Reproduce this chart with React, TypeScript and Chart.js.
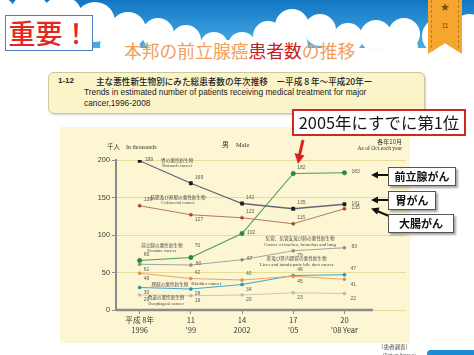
import React, { useEffect, useRef } from "react";
import { Chart, registerables } from "chart.js";

Chart.register(...registerables);

// ---- data ----
const years = [1996, 1999, 2002, 2005, 2008];
const heiseiLabels = ["平成 8年", "11", "14", "17", "20"];
const westernLabels = ["1996", "'99", "2002", "'05", "'08 Year"];
const yTicks = [0, 50, 100, 150, 200];

const stomach = [199, 169, 142, 135, 141];
const colorectal = [139, 127, 123, 115, 135];
const prostate = [66, 70, 102, 182, 183];
const lung = [61, 60, 67, 79, 83];
const liver = [49, 42, 40, 45, 41];
const bladder = [30, 28, 34, 46, 47];
const esophagus = [20, 19, 20, 23, 22];

// ---- presentation ----
type Place = "r" | "ar" | "br" | "aar";
const OFFSETS: Record<Place, [number, number]> = {
  r: [5, -1],
  ar: [4, -6],
  br: [4, 5],
  aar: [4, -12],
};

const SERIES = [
  { label: "胃", values: stomach, line: "#66667a", point: "#1c1c1c", style: "rect", r: 2.3, w: 1.3,
    place: ["r", "ar", "ar", "ar", "r"] as Place[], jp: "胃の悪性新生物", en: "Stomach cancer", at: [1998.2, 200], mode: "center" },
  { label: "大腸", values: colorectal, line: "#b27868", point: "#a8442e", style: "circle", r: 1.6, w: 1,
    place: ["ar", "br", "ar", "ar", "r"] as Place[], jp: "結腸及び直腸の悪性新生物", en: "Colorectal cancer", at: [1998.25, 150.5], mode: "center" },
  { label: "前立腺", values: prostate, line: "#4c9c5a", point: "#238a38", style: "circle", r: 2.2, w: 1.1,
    place: ["ar", "aar", "r", "ar", "r"] as Place[], jp: "前立腺の悪性新生物", en: "Prostate cancer", at: [1997.3, 86.5], mode: "center" },
  { label: "肺", values: lung, line: "#a2a2a2", point: "#8a8a8a", style: "circle", r: 1.5, w: 1,
    place: ["br", "r", "r", "br", "r"] as Place[], jp: "気管、気管支及び肺の悪性新生物", en: "Cancer of trachea, bronchus and lung", at: [2005.4, 95.5], mode: "center" },
  { label: "肝", values: liver, line: "#e8a46a", point: "#e08a48", style: "circle", r: 1.5, w: 1,
    place: ["br", "ar", "ar", "br", "br"] as Place[], jp: "肝及び肝内胆管の悪性新生物", en: "Liver and intrahepatic bile duct cancer", at: [2005.2, 68.5], mode: "center" },
  { label: "膀胱", values: bladder, line: "#3fa9c6", point: "#2a8fb0", style: "circle", r: 1.6, w: 1.2,
    place: ["br", "br", "br", "ar", "ar"] as Place[], jp: "膀胱の悪性新生物", en: "Bladder cancer", at: [1996.7, 34.7], mode: "inline" },
  { label: "食道", values: esophagus, line: "#c9c8b6", point: "#b8b7a4", style: "circle", r: 1.4, w: 1,
    place: ["br", "br", "br", "br", "br"] as Place[], jp: "食道の悪性新生物", en: "Esophageal cancer", at: [1997.55, 16.5], mode: "center" },
];

const JP = '"Noto Sans CJK JP", sans-serif';
const SANS = '"Liberation Sans", Arial, sans-serif';
const SERIF = '"Liberation Serif", "DejaVu Serif", serif';

const annotPlugin = {
  id: "annot",
  beforeDatasetsDraw(chart: any) {
    const { ctx, scales } = chart;
    const x = scales.x, y = scales.y;
    const y0 = y.getPixelForValue(0);
    ctx.save();
    ctx.strokeStyle = "#8c8c8c";
    ctx.lineWidth = 2.5;
    ctx.beginPath();
    ctx.moveTo(chart.chartArea.left, y0);
    ctx.lineTo(x.getPixelForValue(2009.67), y0);
    ctx.stroke();
    ctx.restore();
  },
  afterDatasetsDraw(chart: any) {
    const { ctx, scales } = chart;
    const x = scales.x, y = scales.y;
    ctx.save();
    ctx.textBaseline = "middle";
    SERIES.forEach((s) => {
      ctx.fillStyle = "#5a5a5a";
      ctx.font = `5px ${SANS}`;
      ctx.textAlign = "left";
      s.values.forEach((v, i) => {
        const [dx, dy] = OFFSETS[s.place[i]];
        const px = x.getPixelForValue(years[i]);
        const py = y.getPixelForValue(v);
        ctx.fillText(String(v), px + dx + (i === 4 ? 2 : 0), py + dy);
      });
      const ax = x.getPixelForValue(s.at[0]);
      const ay = y.getPixelForValue(s.at[1]);
      ctx.fillStyle = "#4a4a4a";
      if (s.mode === "inline") {
        ctx.textAlign = "left";
        ctx.font = `4.6px ${JP}`;
        ctx.fillText(s.jp, ax, ay);
        const w = ctx.measureText(s.jp).width;
        ctx.font = `5px ${SERIF}`;
        ctx.fillText(s.en, ax + w + 3, ay);
      } else {
        ctx.textAlign = "center";
        ctx.font = `4.6px ${JP}`;
        ctx.fillText(s.jp, ax, ay);
        ctx.font = `4.8px ${SERIF}`;
        ctx.fillText(s.en, ax, ay + 6);
      }
    });
    ctx.restore();
  },
};

export default function App() {
  const ref = useRef<HTMLCanvasElement>(null);

  useEffect(() => {
    document.body.style.margin = "0";
    const canvas = ref.current!;
    const chart = new Chart(canvas, {
      type: "line",
      data: {
        datasets: SERIES.map((s) => ({
          label: s.label,
          data: s.values.map((v, i) => ({ x: years[i], y: v })),
          borderColor: s.line,
          borderWidth: s.w,
          backgroundColor: s.point,
          pointBackgroundColor: s.point,
          pointBorderColor: s.point,
          pointStyle: s.style as any,
          pointRadius: s.r,
          pointBorderWidth: 0.5,
          tension: 0,
          fill: false,
        })),
      },
      options: {
        responsive: false,
        animation: false,
        events: [],
        layout: { padding: { top: 33, left: 0, right: 0, bottom: 0 } },
        plugins: { legend: { display: false }, tooltip: { enabled: false }, title: { display: false } },
        scales: {
          x: {
            type: "linear",
            min: 1994.615,
            max: 2011.577,
            afterBuildTicks: (s: any) => {
              s.ticks = years.map((v) => ({ value: v }));
            },
            afterFit: (s: any) => {
              s.height = 33;
            },
            grid: { drawOnChartArea: false, drawTicks: true, tickLength: 4, tickColor: "#8c8c8c", lineWidth: 1 },
            border: { display: false },
            ticks: {
              autoSkip: false,
              maxRotation: 0,
              padding: 1,
              color: "#3c3c3c",
              font: { size: 7.6, family: '"Noto Sans CJK JP", "Liberation Sans", sans-serif', lineHeight: 1.35 },
              callback: (_v: any, i: number) => [heiseiLabels[i], westernLabels[i]],
            },
          },
          y: {
            type: "linear",
            min: 0,
            max: 200,
            afterBuildTicks: (s: any) => {
              s.ticks = yTicks.map((v) => ({ value: v }));
            },
            afterFit: (s: any) => {
              s.width = 56;
            },
            grid: { color: "#e6dc9c", tickColor: "#8c8c8c", tickLength: 4, lineWidth: 1 },
            border: { color: "#8c8c8c", width: 2 },
            ticks: { padding: 2, color: "#3c3c3c", font: { size: 7.4, family: SANS } },
          },
        },
      },
      plugins: [annotPlugin],
    });
    return () => chart.destroy();
  }, []);

  const clouds: [number, number, number][] = [
    [-8, 20, 26], [30, 14, 20], [62, 16, 20], [95, 22, 20], [128, 30, 18], [158, 34, 16], [186, 40, 15],
    [214, 46, 14], [242, 46, 14], [268, 36, 15], [292, 26, 17], [320, 30, 16], [348, 38, 15], [376, 36, 16],
    [404, 34, 16], [440, 36, 18], [470, 32, 18],
    [20, 40, 22], [70, 40, 22], [120, 46, 20], [170, 50, 18], [230, 56, 16], [290, 46, 18], [340, 50, 18], [400, 48, 18], [455, 50, 20],
  ];

  const abs = (o: React.CSSProperties): React.CSSProperties => ({ position: "absolute", ...o });

  return (
    <div style={{ position: "relative", width: 474, height: 355, overflow: "hidden", background: "#fff", fontFamily: JP }}>
      {/* sky */}
      <div style={abs({ left: 0, top: 0, width: 474, height: 48, background: "linear-gradient(#1276c4, #49ade6)" })} />
      {clouds.map(([cx, cy, r], i) => (
        <div
          key={i}
          style={abs({
            left: cx - r, top: cy - r, width: r * 2, height: r * 2, borderRadius: "50%",
            background: "radial-gradient(circle at 50% 28%, #ffffff 66%, #eef2f6 100%)",
          })}
        />
      ))}
      <div style={abs({ left: 0, top: 52, width: 474, height: 30, background: "#fff" })} />

      {/* ribbon */}
      <div style={abs({ left: 428, top: 0, width: 34, height: 54, background: "#f5a62e", clipPath: "polygon(0 0,100% 0,100% 100%,50% 80%,0 100%)" })}>
        <div style={abs({ left: 3, top: 0, width: 26, height: 48, borderLeft: "1px dashed #c27a12", borderRight: "1px dashed #c27a12" })} />
        <div style={abs({ left: 0, top: 2, width: 34, textAlign: "center", fontSize: 9, color: "#7a4c0c", lineHeight: "10px" })}>★</div>
        <div style={abs({ left: 0, top: 22, width: 34, textAlign: "center", fontSize: 6.5, color: "#6a4410", fontFamily: SANS, lineHeight: "8px" })}>11</div>
      </div>

      {/* 重要！ */}
      <div style={abs({ left: 5, top: 15, width: 86, height: 34, border: "1.5px solid #4d7cc0", background: "#fff" })}>
        <div style={abs({ left: 0, top: 0, width: 86, textAlign: "center", fontSize: 27, lineHeight: "34px", color: "#e52620", fontWeight: 500 })}>重要！</div>
      </div>

      {/* title */}
      <div style={abs({ left: 124, top: 40, whiteSpace: "nowrap", fontSize: 17.8, lineHeight: "20px", color: "#f0a05c" })}>
        本邦の前立腺癌<span style={{ color: "#c8201e" }}>患者数</span>の推移
      </div>

      {/* caption */}
      <div style={abs({ left: 48, top: 72, width: 375, height: 40, background: "#fbf4c8", border: "1px solid #cfc6a0", borderRadius: 6, boxShadow: "1px 1px 2px rgba(0,0,0,0.18)" })} />
      <div style={abs({ left: 58, top: 76, fontSize: 8, lineHeight: "10px", color: "#222", fontWeight: 700, fontFamily: SANS, whiteSpace: "nowrap" })}>1-12</div>
      <div style={abs({ left: 96, top: 76, fontSize: 8.6, lineHeight: "10px", color: "#222", fontWeight: 500, whiteSpace: "nowrap" })}>主な悪性新生物別にみた総患者数の年次推移　ー平成 8 年～平成20年ー</div>
      <div style={abs({ left: 84, top: 87, fontSize: 8.3, lineHeight: "10px", color: "#222", fontFamily: SANS, whiteSpace: "nowrap" })}>Trends in estimated number of patients receiving medical treatment for major</div>
      <div style={abs({ left: 84, top: 98, fontSize: 8.3, lineHeight: "10px", color: "#222", fontFamily: SANS, whiteSpace: "nowrap" })}>cancer,1996-2008</div>

      {/* chart panel */}
      <div style={abs({ left: 60, top: 127, width: 350, height: 216, background: "#fcf6d3" })}>
        <canvas ref={ref} width={350} height={216} style={{ width: 350, height: 216, display: "block" }} />
      </div>

      {/* chart header texts */}
      <div style={abs({ left: 107, top: 142, whiteSpace: "nowrap", fontSize: 6.5, lineHeight: "9px", color: "#333" })}>
        千人<span style={{ fontFamily: SERIF, fontSize: 6, marginLeft: 6 }}>In thousands</span>
      </div>
      <div style={abs({ left: 222, top: 140, whiteSpace: "nowrap", fontSize: 7, lineHeight: "9px", color: "#333" })}>
        男<span style={{ fontFamily: SERIF, fontSize: 6.5, marginLeft: 7 }}>Male</span>
      </div>
      <div style={abs({ left: 330, top: 138, width: 72, textAlign: "right", fontSize: 6, lineHeight: "7px", color: "#333" })}>各年10月</div>
      <div style={abs({ left: 330, top: 145, width: 72, textAlign: "right", fontSize: 5.6, lineHeight: "7px", color: "#333", fontFamily: SERIF })}>As of Oct.each year</div>

      {/* annotation */}
      <div style={abs({ left: 292, top: 109, width: 170, height: 23, border: "2px solid #d22525", background: "#fff" })}>
        <div style={abs({ left: 0, top: 0, width: 170, textAlign: "center", fontSize: 16.4, lineHeight: "23px", color: "#151515", whiteSpace: "nowrap" })}>2005年にすでに第1位</div>
      </div>

      {/* arrows */}
      <svg width={474} height={355} style={abs({ left: 0, top: 0, pointerEvents: "none" })}>
        <line x1={303} y1={140} x2={299.5} y2={155} stroke="#e02020" strokeWidth={3} />
        <polygon points="294.5,153 304.5,155.5 298,164" fill="#e02020" />
        <line x1={388} y1={175} x2={377} y2={175} stroke="#111" strokeWidth={2} />
        <polygon points="371,175 378,171.5 378,178.5" fill="#111" />
        <line x1={388} y1={200} x2={377} y2={200} stroke="#111" strokeWidth={2} />
        <polygon points="371,200 378,196.5 378,203.5" fill="#111" />
        <line x1={389} y1={216} x2={377} y2={211} stroke="#111" strokeWidth={2} />
        <polygon points="371,208.5 379.5,207.5 377,214.5" fill="#111" />
      </svg>

      {/* label boxes */}
      {[
        { t: "前立腺がん", l: 388, tp: 167, w: 66 },
        { t: "胃がん", l: 388, tp: 191, w: 46 },
        { t: "大腸がん", l: 388, tp: 214, w: 64 },
      ].map((b) => (
        <div key={b.t} style={abs({ left: b.l, top: b.tp, width: b.w, height: 17, border: "1.5px solid #555", background: "#fff", boxShadow: "2px 2px 2px rgba(0,0,0,0.35)" })}>
          <div style={abs({ left: 0, top: 0, width: b.w, textAlign: "center", fontSize: 11, lineHeight: "17px", fontWeight: 700, color: "#111", whiteSpace: "nowrap" })}>{b.t}</div>
        </div>
      ))}

      {/* footer */}
      <div style={abs({ left: 378, top: 344, fontSize: 5.5, lineHeight: "7px", color: "#444", whiteSpace: "nowrap" })}>（患者調査）</div>
      <div style={abs({ left: 383, top: 351, fontSize: 5, lineHeight: "7px", color: "#444", fontFamily: SERIF, whiteSpace: "nowrap" })}>(Patient Survey)</div>
      <div style={abs({ left: 427, top: 350, width: 50, height: 12, background: "#1c8bd6", borderRadius: 4 })} />
    </div>
  );
}
